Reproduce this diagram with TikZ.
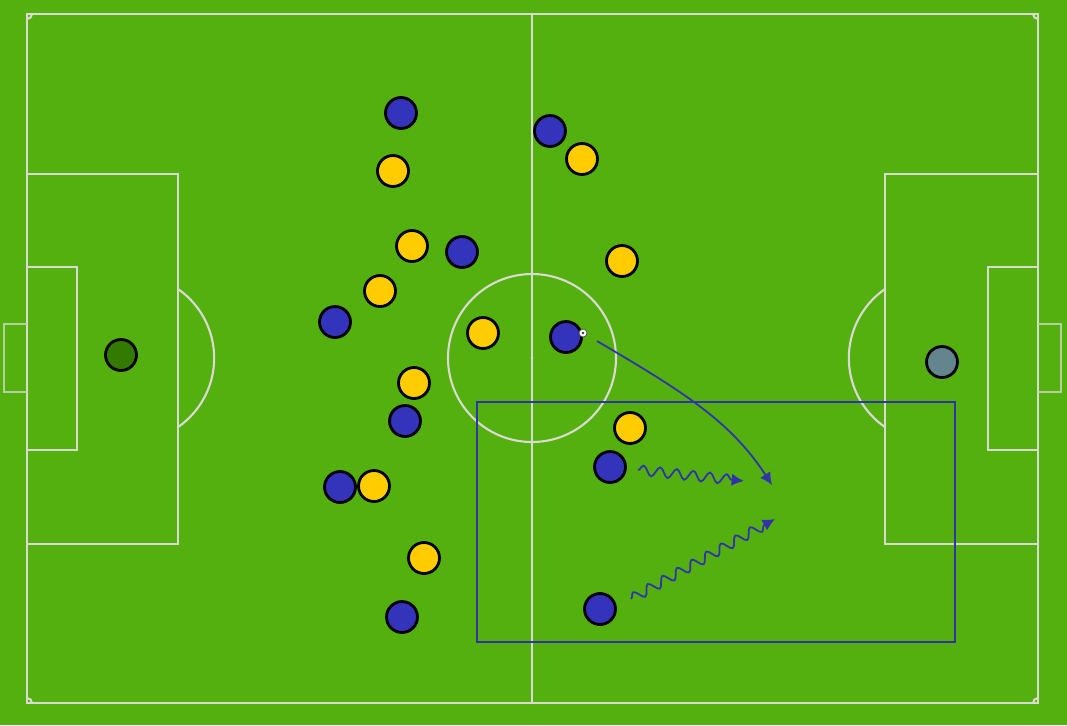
\documentclass[tikz,border=0pt]{standalone}
\usetikzlibrary{arrows.meta,decorations.pathmorphing}

\definecolor{grass}{RGB}{83,176,15}
\definecolor{chalk}{RGB}{218,218,210}
\definecolor{homeblue}{RGB}{51,51,187}
\definecolor{awayyellow}{RGB}{255,204,0}
\definecolor{keepergreen}{RGB}{50,122,0}
\definecolor{keepergrey}{RGB}{100,132,142}
\definecolor{planblue}{RGB}{50,50,170}

\tikzset{
  line/.style={draw=chalk, line width=1.2pt},
  goalline/.style={draw=chalk!75!grass, line width=0.9pt},
  player/.style={circle, draw=black, line width=1.6pt, minimum size=0.62cm, inner sep=0pt},
  blue/.style={player, fill=homeblue},
  yellow/.style={player, fill=awayyellow},
  run/.style={draw=planblue, line width=1pt, -{Latex[length=7pt,width=7pt]}},
  dribble/.style={run, decorate, decoration={snake, amplitude=2.8pt, segment length=9.5pt, post length=6pt}}
}

\begin{document}
\begin{tikzpicture}[x=0.02cm, y=-0.02cm]
            % rasen
            \fill[grass] (0,0) rectangle (1067,725);
            \useasboundingbox (0,0) rectangle (1067,725);

            % linien
            \draw[line] (27,14) rectangle (1038,703);
            \draw[line] (532,14) -- (532,703);
            \draw[line] (532,358) circle[radius=84];
            \fill[chalk] (532,358) circle[radius=1.5];

            % strafraum links
            \draw[line] (27,174) rectangle (178,544);
            \draw[line] (27,267) rectangle (77,450);
            \draw[goalline] (27,324) -- (4,324) -- (4,392) -- (27,392);
            \draw[line] (178,289) arc[start angle=-55.3,end angle=55.3,radius=84];

            % strafraum rechts
            \draw[line] (885,174) rectangle (1038,544);
            \draw[line] (988,267) rectangle (1038,450);
            \draw[goalline] (1038,324) -- (1061,324) -- (1061,392) -- (1038,392);
            \draw[line] (885,289) arc[start angle=235.3,end angle=124.7,radius=84];

            % eckfahnen
            \draw[line] (27,19) arc[start angle=90,end angle=0,radius=5];
            \draw[line] (1033,14) arc[start angle=180,end angle=90,radius=5];
            \draw[line] (27,698) arc[start angle=-90,end angle=0,radius=5];
            \draw[line] (1033,703) arc[start angle=180,end angle=270,radius=5];

            % zone
            \draw[planblue, line width=0.9pt] (477,402) rectangle (955,642);

            % torhueter
            \node[player, fill=keepergreen] (gkL) at (121,355) {};
            \node[player, fill=keepergrey] (gkR) at (942,362) {};

            % blaue spieler
            \node[blue] (b1) at (401,113) {};
            \node[blue] (b2) at (550,131) {};
            \node[blue] (b3) at (462,252) {};
            \node[blue] (b4) at (335,322) {};
            \node[blue] (b5) at (566,337) {};
            \node[blue] (b6) at (405,421) {};
            \node[blue] (b7) at (340,487) {};
            \node[blue] (b8) at (610,467) {};
            \node[blue] (b9) at (600,609) {};
            \node[blue] (b10) at (402,617) {};

            % gelbe spieler
            \node[yellow] (y1) at (393,171) {};
            \node[yellow] (y2) at (582,159) {};
            \node[yellow] (y3) at (412,246) {};
            \node[yellow] (y4) at (622,261) {};
            \node[yellow] (y5) at (380,291) {};
            \node[yellow] (y6) at (483,333) {};
            \node[yellow] (y7) at (414,383) {};
            \node[yellow] (y8) at (630,428) {};
            \node[yellow] (y9) at (374,486) {};
            \node[yellow] (y10) at (424,558) {};

            % ball
            \node[circle, fill=white, draw=black!70, line width=0.4pt, minimum size=0.16cm, inner sep=0pt] (ball) at (583,333) {};
            \fill[black!80] (ball.center) circle[radius=1.3];

            % laufwege
            \coordinate (passA) at (597,341);
            \coordinate (passB) at (772,485);
            \coordinate (dribA) at (638,470);
            \coordinate (dribB) at (744,481);
            \coordinate (runA) at (631,599);
            \coordinate (runB) at (775,519);

            \draw[run] (passA) .. controls (680,390) and (730,420) .. (passB);
            \draw[dribble] (dribA) -- (dribB);
            \draw[dribble] (runA) -- (runB);
        \end{tikzpicture}
\end{document}
